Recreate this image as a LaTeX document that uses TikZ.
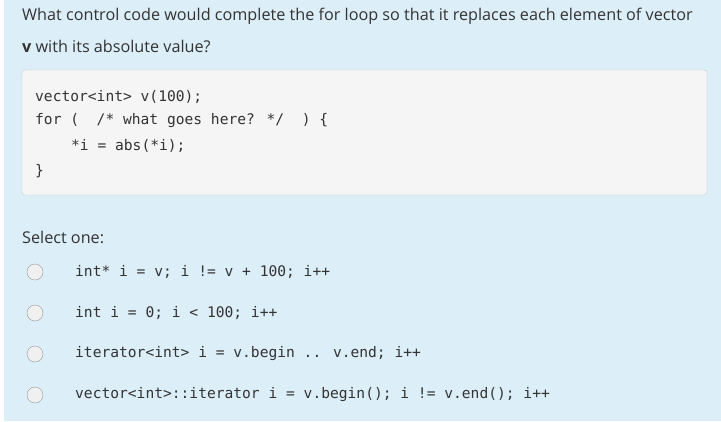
\documentclass[tikz,border=0pt]{standalone}
\usepackage{fontspec}
\setmainfont{Open Sans}
\newfontfamily\codef{DejaVu Sans Mono}[Scale=0.93]
\definecolor{bgblue}{HTML}{DCEEF7}
\definecolor{codebg}{HTML}{F5F5F5}
\definecolor{codebd}{HTML}{CCCCCC}
\definecolor{txt}{HTML}{333333}
\tikzset{
 qtext/.style={anchor=west,inner sep=0pt,text=txt,font=\fontsize{16.2}{19}\selectfont},
 code/.style={anchor=west,inner sep=0pt,text=txt,font=\codef\fontsize{15.7}{18}\selectfont},
 radio/.style={circle,draw=black!40,fill=black!6,minimum size=16pt,inner sep=0pt}
}
\begin{document}
\begin{tikzpicture}[x=1pt,y=-1pt]
\useasboundingbox (0,0) rectangle (721,421);
\fill[bgblue] (4,0) rectangle (721,421);
\node[qtext] (q1) at (22,16) {What control code would complete the for loop so that it replaces each element of vector};
\node[qtext] (q2) at (22,46) {\textbf{v} with its absolute value?};
\draw[codebd,fill=codebg,rounded corners=3pt] (22,70) rectangle (707,195);
\node[code] (c1) at (35,97) {vector<int> v(100);};
\node[code] (c2) at (35,121) {for (~~/* what goes here? */~~) \{};
\node[code] (c3) at (71,146) {*i = abs(*i);};
\node[code] (c4) at (35,171) {\}};
\node[qtext] (sel) at (22,237) {Select one:};
\node[radio] (r1) at (35,272) {};
\node[radio] (r2) at (35,313) {};
\node[radio] (r3) at (35,354) {};
\node[radio] (r4) at (35,395) {};
\node[code] (o1) at (75,272) {int* i = v; i != v + 100; i++};
\node[code] (o2) at (75,313) {int i = 0; i < 100; i++};
\node[code] (o3) at (75,354) {iterator<int> i = v.begin .. v.end; i++};
\node[code] (o4) at (75,395) {vector<int>::iterator i = v.begin(); i != v.end(); i++};
\end{tikzpicture}
\end{document}
